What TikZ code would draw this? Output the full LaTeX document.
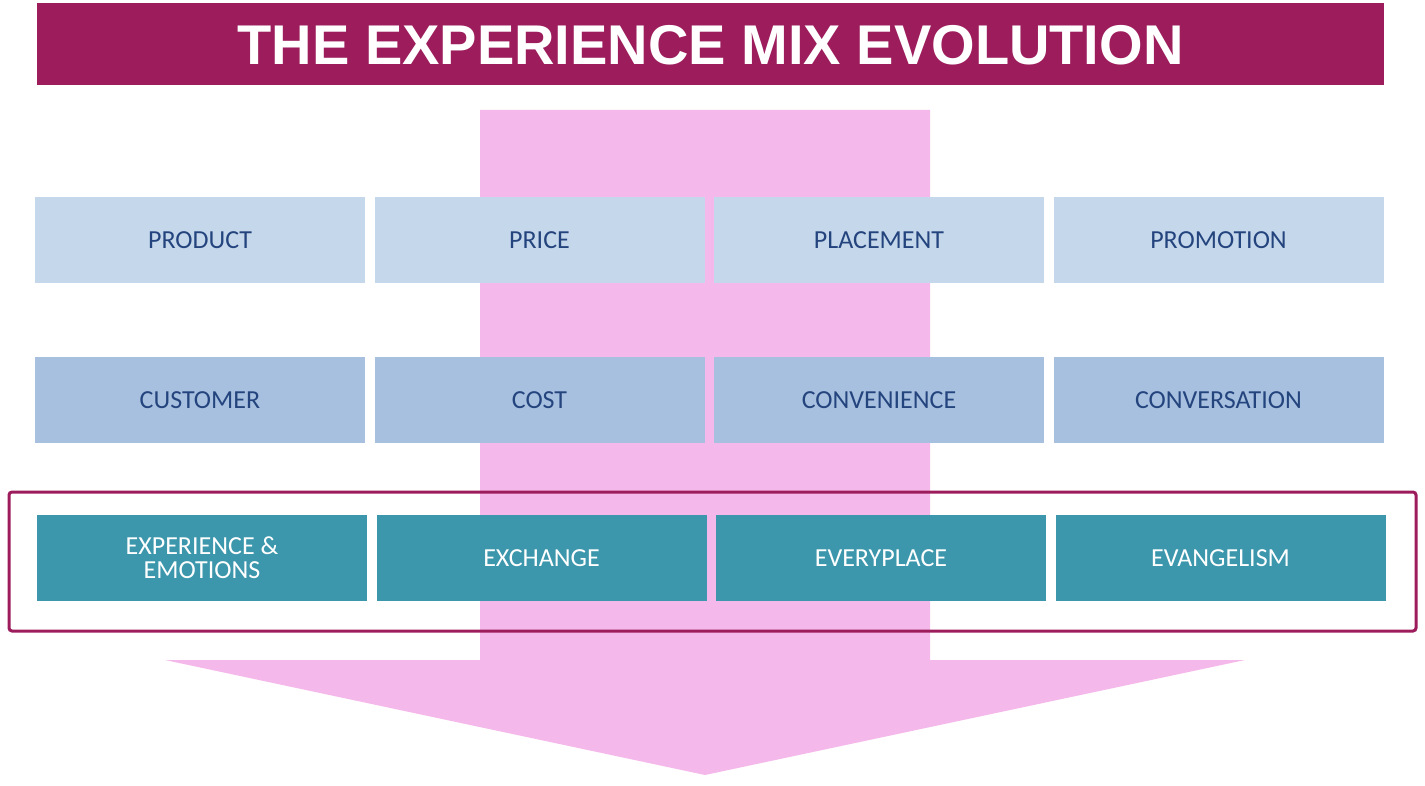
\documentclass[tikz,border=0pt]{standalone}
\usepackage{fontspec}
\setmainfont{Carlito}
\newfontfamily\titlefont{Liberation Sans}
\definecolor{plum}{HTML}{9C1C5C}
\definecolor{pinkarrow}{HTML}{F5B8EA}
\definecolor{rowa}{HTML}{C5D7EB}
\definecolor{rowb}{HTML}{A7C0E0}
\definecolor{rowc}{HTML}{3C97AD}
\definecolor{navytext}{HTML}{24447E}
\begin{document}
\begin{tikzpicture}[x=1pt,y=-1pt,
  cell/.style={minimum width=330pt,minimum height=86pt,inner sep=0pt,font=\fontsize{26}{28}\selectfont,align=center},
  lightcell/.style={cell,fill=rowa,text=navytext},
  midcell/.style={cell,fill=rowb,text=navytext},
  tealcell/.style={cell,fill=rowc,text=white}]
\useasboundingbox (0,0) rectangle (1425,786);
\fill[plum] (37,3) rectangle (1384,85);
\node (title) at (710.5,45) {\titlefont\bfseries\fontsize{56}{60}\selectfont\color{white}THE EXPERIENCE MIX EVOLUTION};
\fill[pinkarrow] (480,110) -- (930,110) -- (930,660) -- (1245,660) -- (705,775) -- (165,660) -- (480,660) -- cycle;
\node[lightcell] (p1) at (200,240) {PRODUCT};
\node[lightcell] (p2) at (539.5,240) {PRICE};
\node[lightcell] (p3) at (879,240) {PLACEMENT};
\node[lightcell] (p4) at (1218.5,240) {PROMOTION};
\node[midcell] (c1) at (200,400) {CUSTOMER};
\node[midcell] (c2) at (539.5,400) {COST};
\node[midcell] (c3) at (879,400) {CONVENIENCE};
\node[midcell] (c4) at (1218.5,400) {CONVERSATION};
\node[tealcell] (e1) at (202,558) {EXPERIENCE \&\\[-4pt]EMOTIONS};
\node[tealcell] (e2) at (541.5,558) {EXCHANGE};
\node[tealcell] (e3) at (881,558) {EVERYPLACE};
\node[tealcell] (e4) at (1220.5,558) {EVANGELISM};
\draw[plum,line width=3pt,rounded corners=3pt] (9,492) rectangle (1416,631);
\end{tikzpicture}
\end{document}
